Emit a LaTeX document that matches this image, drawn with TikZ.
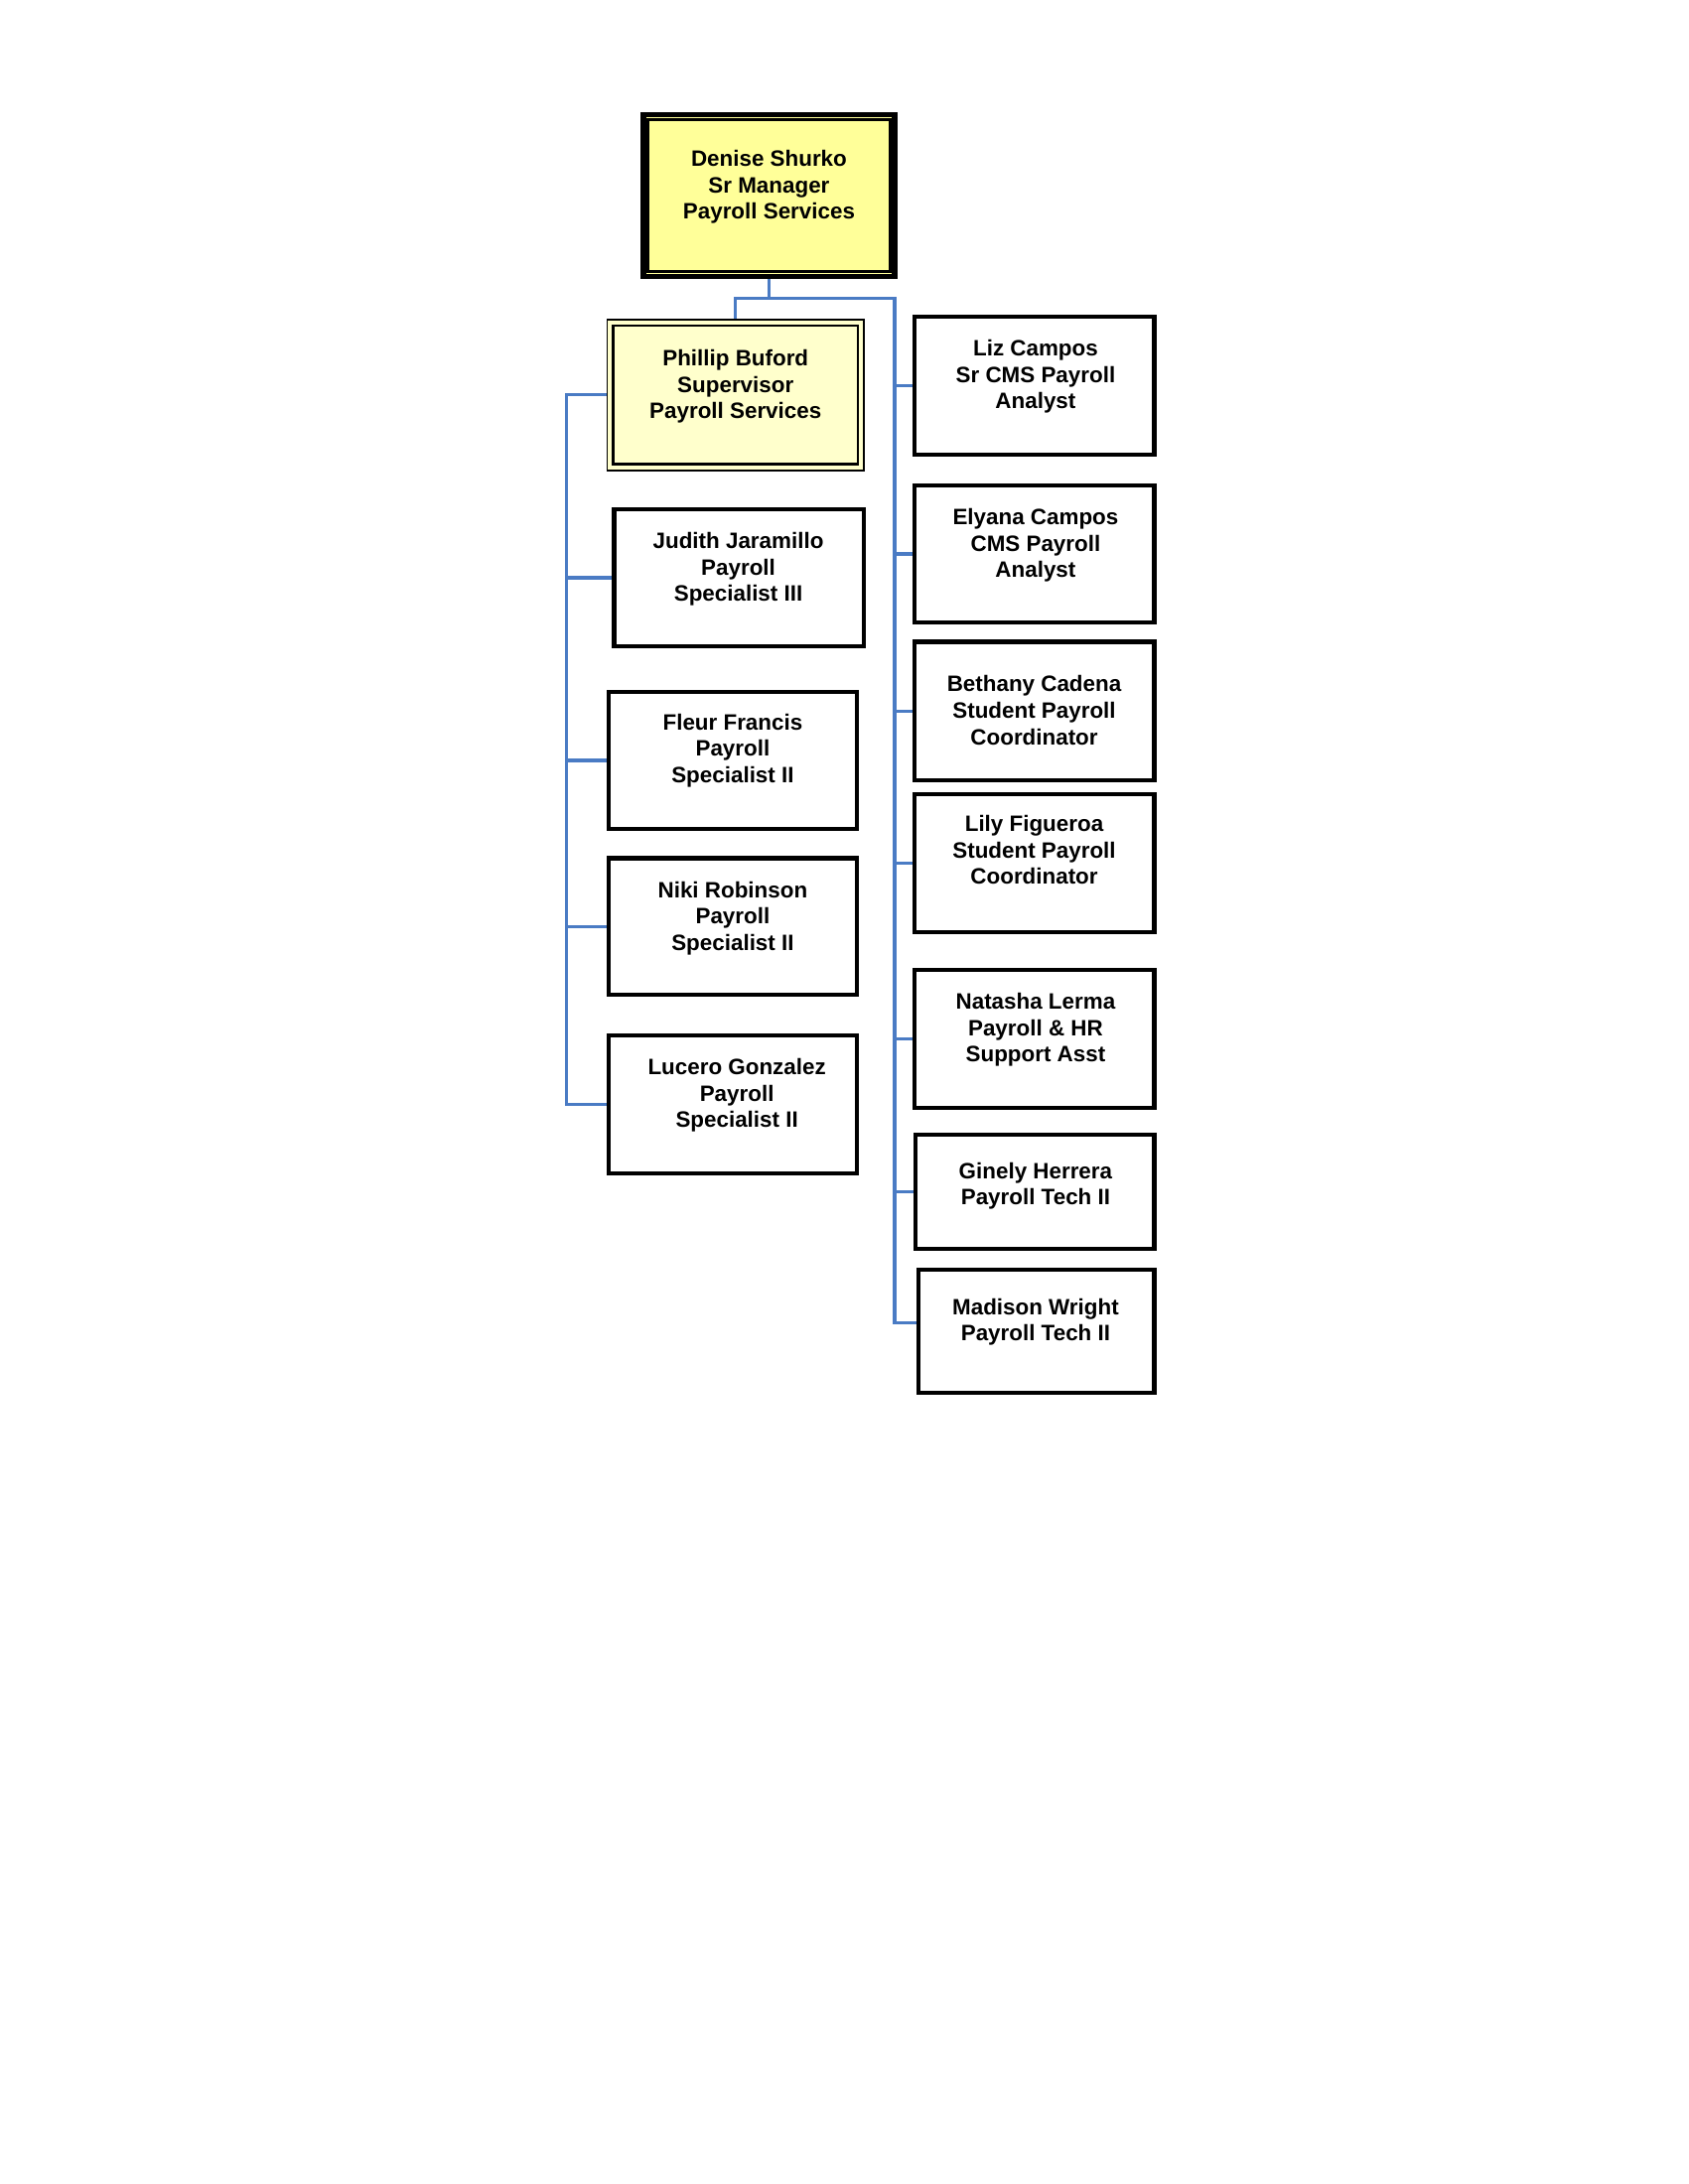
\documentclass[tikz,border=0pt]{standalone}
\usepackage{fontspec}
\setmainfont{Liberation Sans}
\definecolor{topyellow}{HTML}{FFFF99}
\definecolor{supyellow}{HTML}{FFFFCC}
\definecolor{connblue}{HTML}{4A7BC4}
\begin{document}
\begin{tikzpicture}[x=0.5019pt,y=-0.5019pt,
  box/.style={draw=black, line width=1.5pt, fill=white, inner sep=0pt},
  txt/.style={align=center, inner sep=0pt, font=\fontsize{8}{9.5}\selectfont\bfseries},
  conn/.style={draw=connblue, line width=1.15pt}]
\useasboundingbox (0,0) rectangle (1209.5,1565.2);
% boxes
\node[draw=black, line width=1.9pt, fill=topyellow, inner sep=0pt,
  minimum width={180*0.5019pt}, minimum height={116*0.5019pt}] (denise) at (551,140) {};
\draw[line width=1.1pt] ([shift={(5.4,5.4)}]denise.north west) rectangle ([shift={(-5.4,-5.4)}]denise.south east);
\node[txt] (denise-t) at (551,134) {Denise Shurko\\Sr Manager\\Payroll Services};

\node[draw=black, line width=0.6pt, fill=supyellow, inner sep=0pt,
  minimum width={184*0.5019pt}, minimum height={108*0.5019pt}] (phillip) at (527,283) {};
\draw[line width=0.9pt] ([shift={(5,5)}]phillip.north west) rectangle ([shift={(-5,-5)}]phillip.south east);
\node[txt] (phillip-t) at (527,277) {Phillip Buford\\Supervisor\\Payroll Services};

\node[box, minimum width={179*0.5019pt}, minimum height={98*0.5019pt}] (judith) at (529.5,414) {};
\node[txt] (judith-t) at (529,408) {Judith Jaramillo\\Payroll\\Specialist III};
\node[box, minimum width={178*0.5019pt}, minimum height={98*0.5019pt}] (fleur) at (525,545) {};
\node[txt] (fleur-t) at (525,538) {Fleur Francis\\Payroll\\Specialist II};
\node[box, minimum width={178*0.5019pt}, minimum height={98*0.5019pt}] (niki) at (525,664) {};
\node[txt] (niki-t) at (525,658) {Niki Robinson\\Payroll\\Specialist II};
\node[box, minimum width={178*0.5019pt}, minimum height={99*0.5019pt}] (lucero) at (525,791.5) {};
\node[txt] (lucero-t) at (528,785) {Lucero Gonzalez\\Payroll\\Specialist II};

\node[box, minimum width={172*0.5019pt}, minimum height={99*0.5019pt}] (liz) at (741,276.5) {};
\node[txt] (liz-t) at (742,270) {Liz Campos\\Sr CMS Payroll\\Analyst};
\node[box, minimum width={172*0.5019pt}, minimum height={98*0.5019pt}] (elyana) at (741,397) {};
\node[txt] (elyana-t) at (742,391) {Elyana Campos\\CMS Payroll\\Analyst};
\node[box, minimum width={172*0.5019pt}, minimum height={99*0.5019pt}] (bethany) at (741,509.5) {};
\node[txt] (bethany-t) at (741,509) {Bethany Cadena\\Student Payroll\\Coordinator};
\node[box, minimum width={172*0.5019pt}, minimum height={99*0.5019pt}] (lily) at (741,618.5) {};
\node[txt] (lily-t) at (741,609) {Lily Figueroa\\Student Payroll\\Coordinator};
\node[box, minimum width={172*0.5019pt}, minimum height={99*0.5019pt}] (natasha) at (741,744.5) {};
\node[txt] (natasha-t) at (742,738) {Natasha Lerma\\Payroll \& HR\\Support Asst};
\node[box, minimum width={171*0.5019pt}, minimum height={82*0.5019pt}] (ginely) at (741.5,854) {};
\node[txt] (ginely-t) at (742,850) {Ginely Herrera\\Payroll Tech II};
\node[box, minimum width={169*0.5019pt}, minimum height={88*0.5019pt}] (madison) at (742.5,954) {};
\node[txt] (madison-t) at (742,947.5) {Madison Wright\\Payroll Tech II};

% connectors
\coordinate (rtop) at (641,214);
\coordinate (ltop) at (406,283);
\draw[conn] (denise.south) -- (denise.south |- rtop) -| (phillip.north);
\draw[conn] (denise.south |- rtop) -- (rtop) |- ([shift={(0,-6)}]madison.west);
\foreach \n in {liz,elyana,bethany,lily,natasha,ginely}
  \draw[conn] (\n.west) -- (\n.west -| rtop);
\draw[conn] (phillip.west) -- (ltop) |- (lucero.west);
\foreach \n in {judith,fleur,niki}
  \draw[conn] (\n.west) -- (\n.west -| ltop);
\end{tikzpicture}
\end{document}
